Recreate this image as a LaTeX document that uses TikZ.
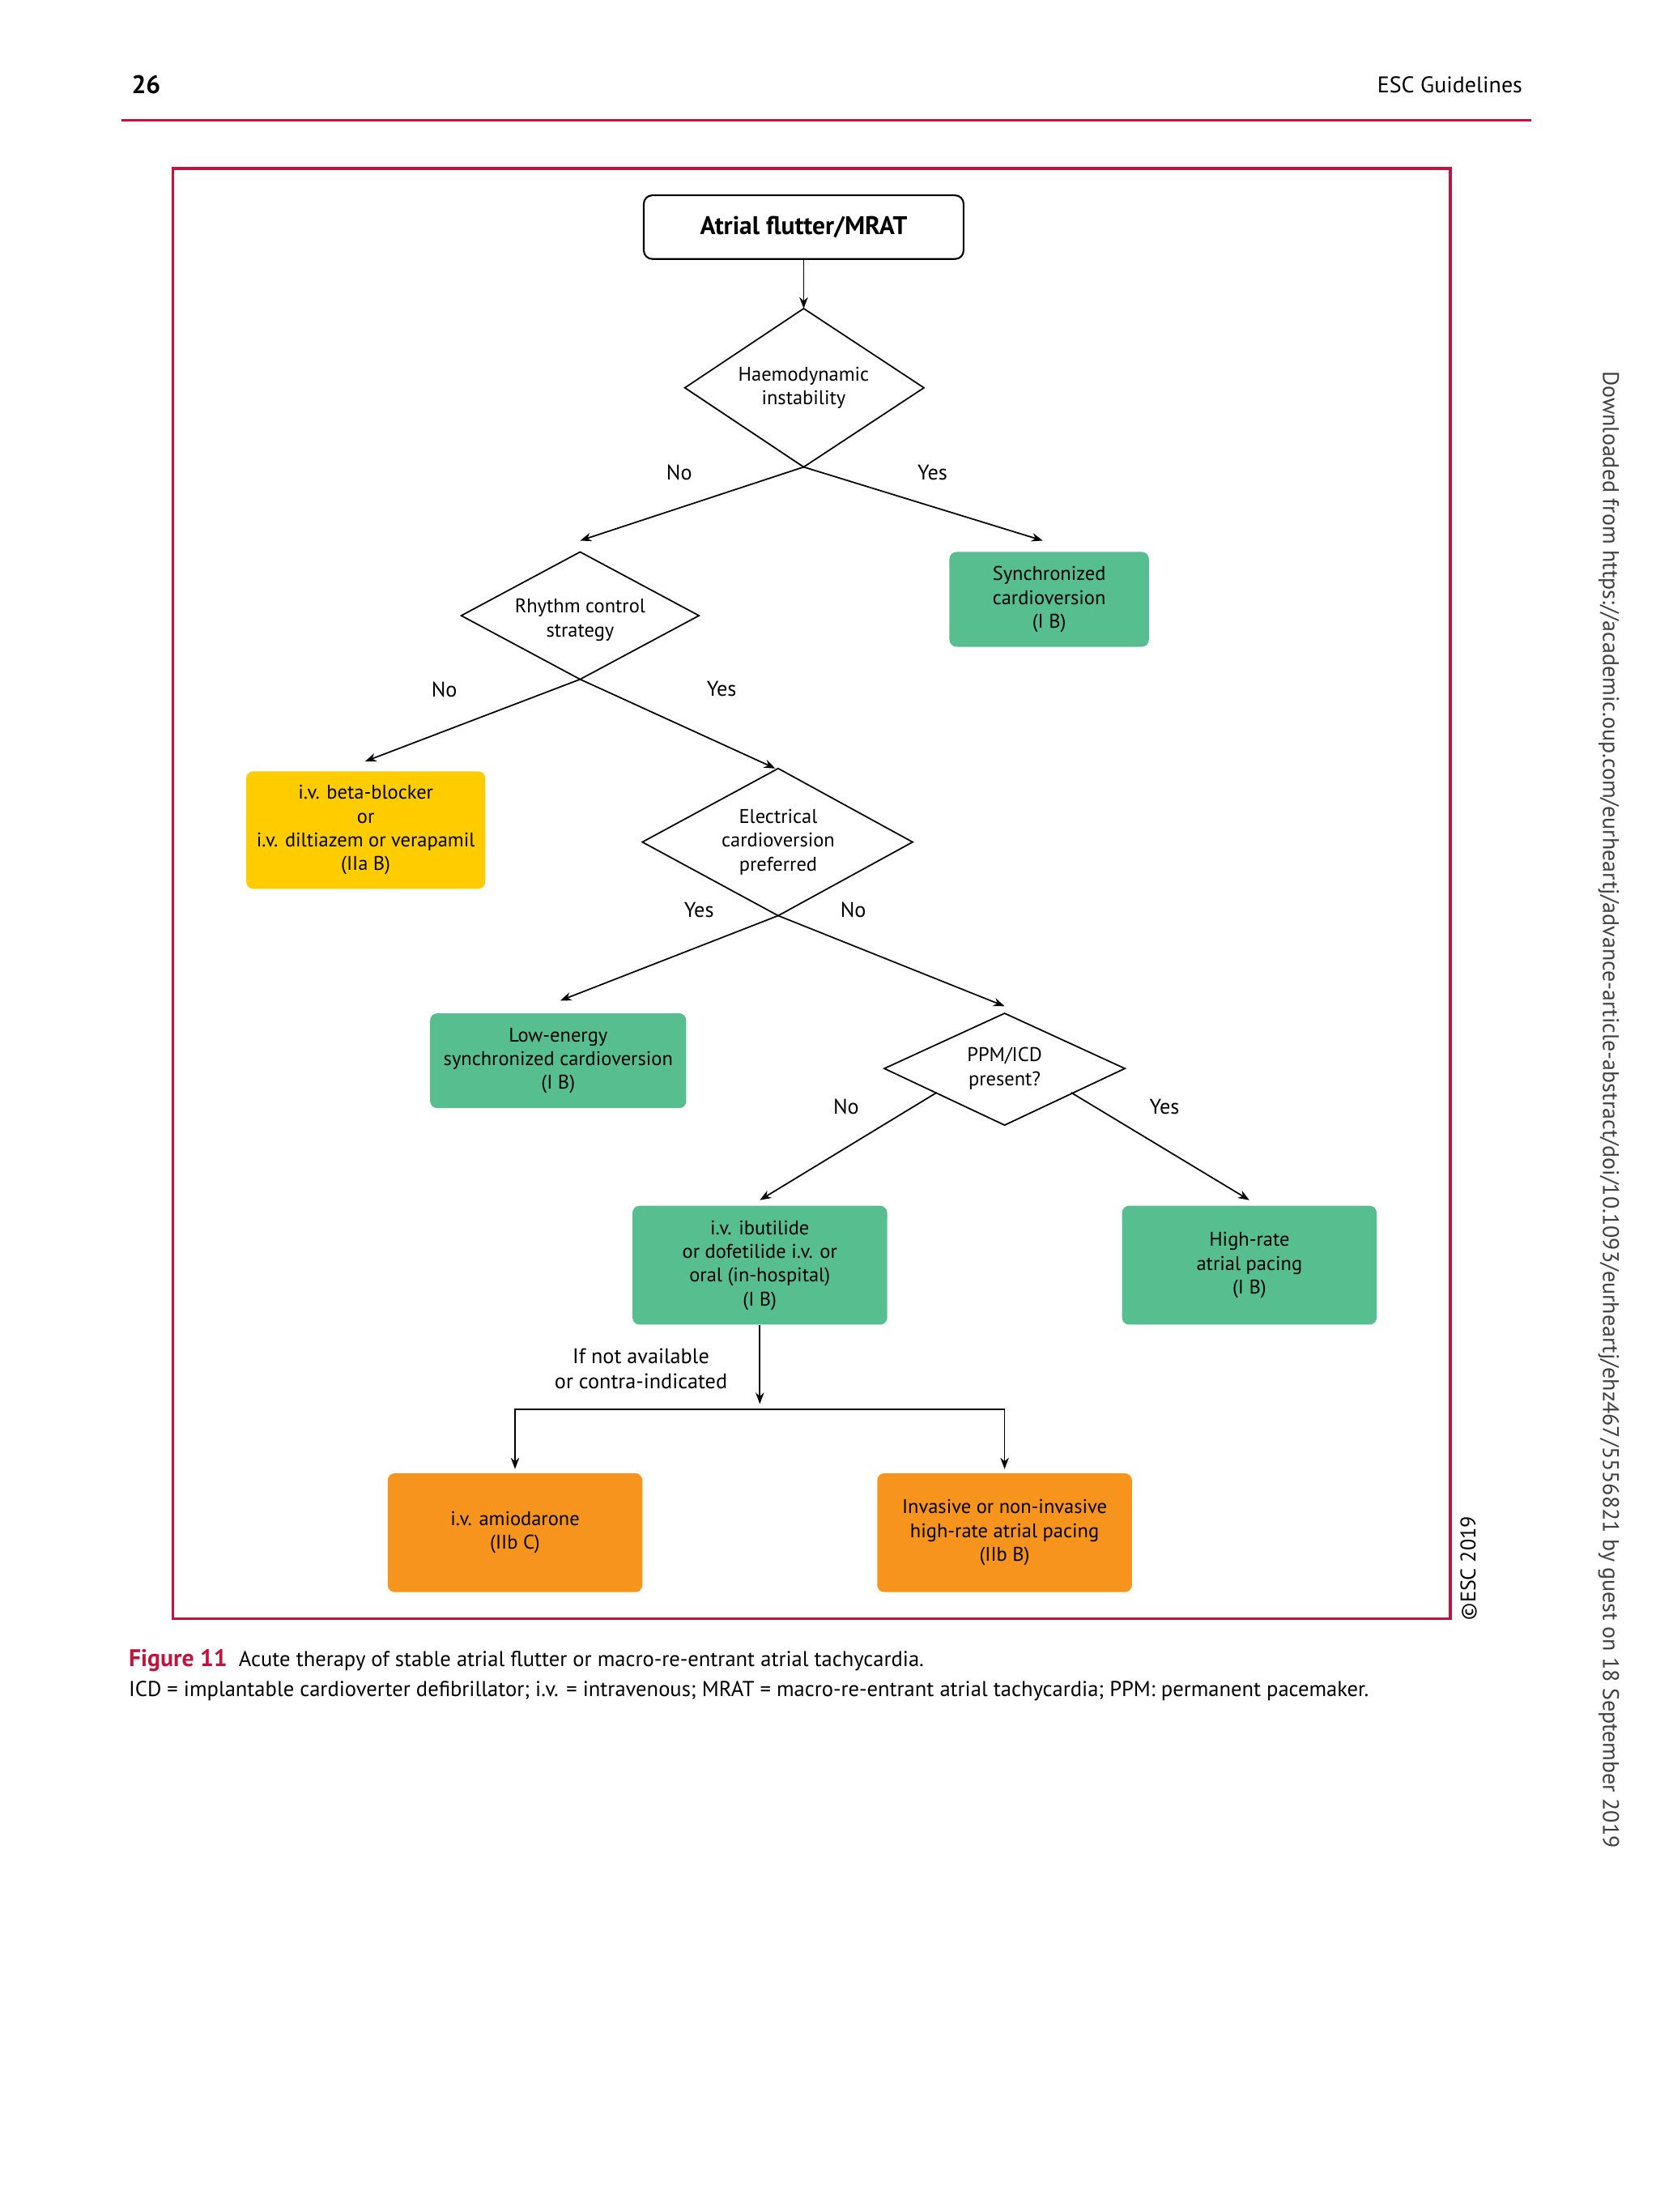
\documentclass[tikz,border=0pt]{standalone}
\usepackage{fontspec}
\setmainfont{PT Sans}
\usetikzlibrary{shapes.geometric,arrows.meta}
\definecolor{esc}{HTML}{C0143C}
\definecolor{gr}{HTML}{57BF8F}
\definecolor{ye}{HTML}{FFCC00}
\definecolor{or}{HTML}{F7941D}
\begin{document}
\begin{tikzpicture}[x=0.5pt,y=-0.5pt,
  every node/.style={font=\fontsize{7}{8.4}\selectfont,align=center},
  box/.style={rounded corners=2.5pt,inner sep=0pt,align=center},
  arr/.style={-{Stealth[length=4pt,width=3pt]},line width=0.5pt},
  lab/.style={font=\fontsize{7.5}{9}\selectfont}]
\useasboundingbox (0,0) rectangle (1170,1563);
\node[anchor=west,font=\bfseries\fontsize{9}{10}\selectfont] (pg) at (86,60) {26};
\node[anchor=east,font=\fontsize{8}{10}\selectfont] (hd) at (1083,60) {ESC Guidelines};
\draw[esc,line width=0.6pt] (86,85) -- (1082,85);
\draw[esc,line width=0.9pt] (122,119) rectangle (1025,1144);
% title
\node[draw,rounded corners=3pt,minimum width=113pt,minimum height=22.5pt,font=\bfseries\fontsize{9}{10}\selectfont,line width=0.6pt] (t) at (568,160.5) {Atrial flutter/MRAT};
% diamonds
\path[draw,line width=0.5pt] (568,218) coordinate (d1n) -- (653,274) -- (568,330) coordinate (d1s) -- (484,274) -- cycle;
\node (d1t) at (568,274) {Haemodynamic\\instability};
\path[draw,line width=0.5pt] (410,390) -- (494,435) -- (410,480) coordinate (d2s) -- (326,435) -- cycle;
\node (d2t) at (410,438) {Rhythm control\\strategy};
\path[draw,line width=0.5pt] (550,543) -- (645,595) -- (550,647) coordinate (d3s) -- (454,595) -- cycle;
\node (d3t) at (550,595) {Electrical\\cardioversion\\preferred};
\path[draw,line width=0.5pt] (710,716) -- (795,755) -- (710,795) -- (625,755) -- cycle;
\coordinate (d4l) at (662,772); \coordinate (d4r) at (757,772);
\node (d4t) at (710,755) {PPM/ICD\\present?};
% boxes
\node[box,fill=gr,minimum width=70.5pt,minimum height=33.5pt] (sc) at (741.5,423.5) {Synchronized\\cardioversion\\(I B)};
\node[box,fill=ye,minimum width=84.5pt,minimum height=41.5pt] (bb) at (258.5,586.5) {i.v. beta-blocker\\or\\i.v. diltiazem or verapamil\\(IIa B)};
\node[box,fill=gr,minimum width=90.5pt,minimum height=33.5pt] (le) at (394.5,749.5) {Low-energy\\synchronized cardioversion\\(I B)};
\node[box,fill=gr,minimum width=90pt,minimum height=42pt] (ib) at (537,894) {i.v. ibutilide\\or dofetilide i.v. or\\oral (in-hospital)\\(I B)};
\node[box,fill=gr,minimum width=90pt,minimum height=42pt] (hr) at (883,894) {High-rate\\atrial pacing\\(I B)};
\node[box,fill=or,minimum width=90pt,minimum height=42pt] (am) at (364,1083) {i.v. amiodarone\\(IIb C)};
\node[box,fill=or,minimum width=90pt,minimum height=42pt] (ip) at (710,1083) {Invasive or non-invasive\\high-rate atrial pacing\\(IIb B)};
% connectors
\draw[arr] (t.south) -- (d1n);
\coordinate (a1) at (410,382); \coordinate (a2) at (737,382);
\draw[arr] (d1s) -- (a1); \draw[arr] (d1s) -- (a2);
\coordinate (a3) at (258,538); \coordinate (a4) at (548,543);
\draw[arr] (d2s) -- (a3); \draw[arr] (d2s) -- (a4);
\coordinate (a5) at (396,707); \coordinate (a6) at (710,711);
\draw[arr] (d3s) -- (a5); \draw[arr] (d3s) -- (a6);
\coordinate (a7) at (537,848); \coordinate (a8) at (883,848);
\draw[arr] (d4l) -- (a7); \draw[arr] (d4r) -- (a8);
\coordinate (a9) at (537,992);
\draw[arr] (ib.south) -- (a9);
\coordinate (b1) at (364,996); \coordinate (b2) at (710,996);
\draw[arr] (b2) -- (b1) -- (364,1038);
\draw[arr] (b1) -- (b2) -- (710,1038);
% labels
\node[lab] (l1) at (480,334) {No}; \node[lab] (l2) at (659,334) {Yes};
\node[lab] (l3) at (314,487) {No}; \node[lab] (l4) at (510,487) {Yes};
\node[lab] (l5) at (494,643) {Yes}; \node[lab] (l6) at (603,643) {No};
\node[lab] (l7) at (598,782) {No}; \node[lab] (l8) at (823,782) {Yes};
\node[lab] (l9) at (453,967) {If not available\\or contra-indicated};
\node[rotate=90,font=\fontsize{7.5}{9}\selectfont] (cp) at (1038,1108) {©ESC 2019};
\node[rotate=-90,font=\fontsize{8}{9}\selectfont,text=black!75] (dl) at (1137,784) {Downloaded from https://academic.oup.com/eurheartj/advance-article-abstract/doi/10.1093/eurheartj/ehz467/5556821 by guest on 18 September 2019};
% caption
\node[anchor=west,font=\fontsize{7.6}{10}\selectfont] (cap1) at (84,1173) {\textcolor{esc}{\bfseries\fontsize{8.5}{10}\selectfont Figure 11}\ \ Acute therapy of stable atrial flutter or macro-re-entrant atrial tachycardia.};
\node[anchor=west,font=\fontsize{7.6}{10}\selectfont] (cap2) at (84,1195) {ICD = implantable cardioverter defibrillator; i.v. = intravenous; MRAT = macro-re-entrant atrial tachycardia; PPM: permanent pacemaker.};
\end{tikzpicture}
\end{document}
